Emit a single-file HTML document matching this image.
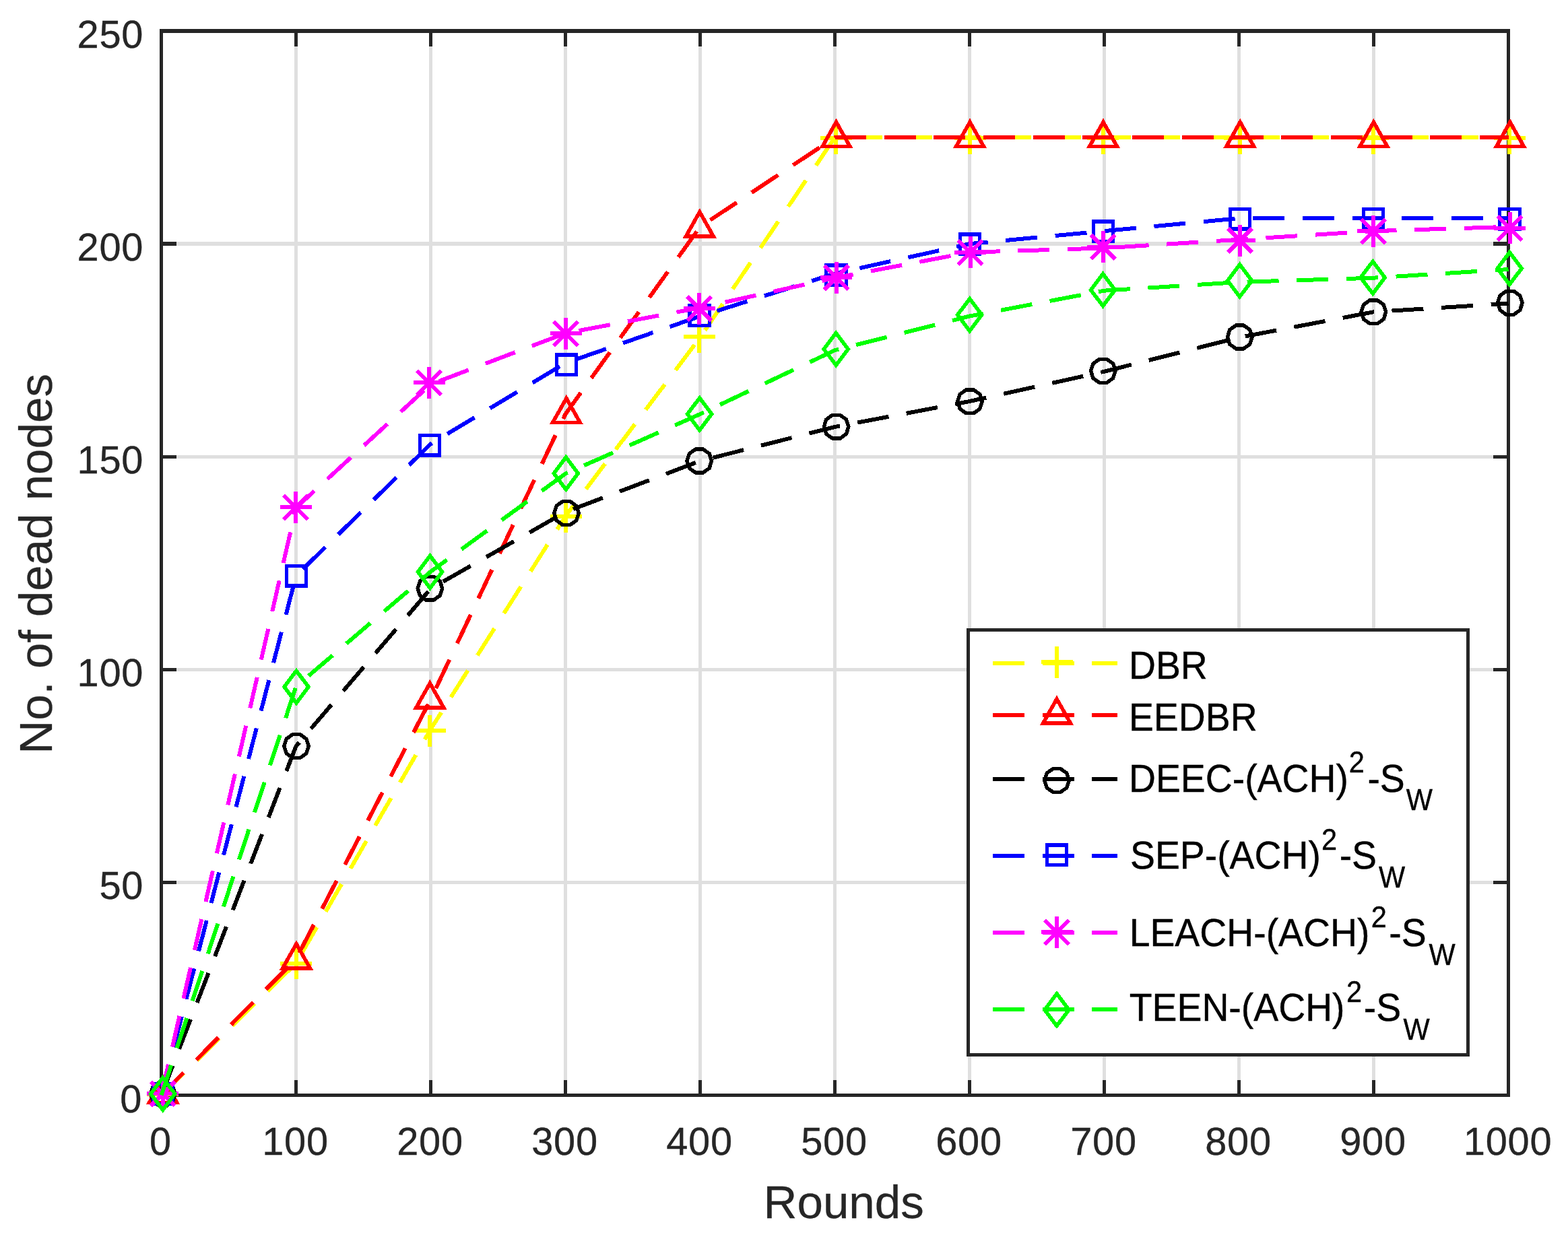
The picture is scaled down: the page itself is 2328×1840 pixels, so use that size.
<!DOCTYPE html>
<html lang="en"><head><meta charset="utf-8"><title>No. of dead nodes vs. Rounds</title>
<style>html,body{margin:0;padding:0;background:#fff;overflow:hidden}svg{display:block}text{font-family:"Liberation Sans",sans-serif}</style>
</head><body>
<svg width="2328" height="1840" viewBox="0 0 2328 1840" role="img" aria-label="No. of dead nodes versus rounds">
<rect width="2328" height="1840" fill="#fff"/>
<g stroke="#dfdfdf" stroke-width="5" shape-rendering="crispEdges">
<line x1="439.5" y1="46" x2="439.5" y2="1626.5"/>
<line x1="639.5" y1="46" x2="639.5" y2="1626.5"/>
<line x1="839.5" y1="46" x2="839.5" y2="1626.5"/>
<line x1="1039.5" y1="46" x2="1039.5" y2="1626.5"/>
<line x1="1239.5" y1="46" x2="1239.5" y2="1626.5"/>
<line x1="1439.5" y1="46" x2="1439.5" y2="1626.5"/>
<line x1="1639.5" y1="46" x2="1639.5" y2="1626.5"/>
<line x1="1839.5" y1="46" x2="1839.5" y2="1626.5"/>
<line x1="2039.5" y1="46" x2="2039.5" y2="1626.5"/>
<line x1="239.5" y1="1310.4" x2="2239.5" y2="1310.4"/>
<line x1="239.5" y1="994.3" x2="2239.5" y2="994.3"/>
<line x1="239.5" y1="678.2" x2="2239.5" y2="678.2"/>
<line x1="239.5" y1="362" x2="2239.5" y2="362" stroke-width="6"/>
</g>
<g stroke="#262626" stroke-width="5" fill="none" shape-rendering="crispEdges">
<rect x="239.5" y="46" width="2000" height="1580.5"/>
<line x1="237" y1="46" x2="2242" y2="46" stroke-width="6"/>
<line x1="439.5" y1="1626.5" x2="439.5" y2="1604"/>
<line x1="439.5" y1="46" x2="439.5" y2="68.5"/>
<line x1="639.5" y1="1626.5" x2="639.5" y2="1604"/>
<line x1="639.5" y1="46" x2="639.5" y2="68.5"/>
<line x1="839.5" y1="1626.5" x2="839.5" y2="1604"/>
<line x1="839.5" y1="46" x2="839.5" y2="68.5"/>
<line x1="1039.5" y1="1626.5" x2="1039.5" y2="1604"/>
<line x1="1039.5" y1="46" x2="1039.5" y2="68.5"/>
<line x1="1239.5" y1="1626.5" x2="1239.5" y2="1604"/>
<line x1="1239.5" y1="46" x2="1239.5" y2="68.5"/>
<line x1="1439.5" y1="1626.5" x2="1439.5" y2="1604"/>
<line x1="1439.5" y1="46" x2="1439.5" y2="68.5"/>
<line x1="1639.5" y1="1626.5" x2="1639.5" y2="1604"/>
<line x1="1639.5" y1="46" x2="1639.5" y2="68.5"/>
<line x1="1839.5" y1="1626.5" x2="1839.5" y2="1604"/>
<line x1="1839.5" y1="46" x2="1839.5" y2="68.5"/>
<line x1="2039.5" y1="1626.5" x2="2039.5" y2="1604"/>
<line x1="2039.5" y1="46" x2="2039.5" y2="68.5"/>
<line x1="239.5" y1="1310.4" x2="262" y2="1310.4"/>
<line x1="2239.5" y1="1310.4" x2="2217" y2="1310.4"/>
<line x1="239.5" y1="994.3" x2="262" y2="994.3"/>
<line x1="2239.5" y1="994.3" x2="2217" y2="994.3"/>
<line x1="239.5" y1="678.2" x2="262" y2="678.2"/>
<line x1="2239.5" y1="678.2" x2="2217" y2="678.2"/>
<line x1="239.5" y1="362" x2="262" y2="362" stroke-width="6"/>
<line x1="2239.5" y1="362" x2="2217" y2="362" stroke-width="6"/>
</g>
<g font-size="57.8" letter-spacing="0.8" fill="#262626" stroke="#262626" stroke-width="0.35">
<text x="238.6" y="1714.8" text-anchor="middle">0</text>
<text x="438.6" y="1714.8" text-anchor="middle">100</text>
<text x="638.6" y="1714.8" text-anchor="middle">200</text>
<text x="838.6" y="1714.8" text-anchor="middle">300</text>
<text x="1038.6" y="1714.8" text-anchor="middle">400</text>
<text x="1238.6" y="1714.8" text-anchor="middle">500</text>
<text x="1438.6" y="1714.8" text-anchor="middle">600</text>
<text x="1638.6" y="1714.8" text-anchor="middle">700</text>
<text x="1838.6" y="1714.8" text-anchor="middle">800</text>
<text x="2038.6" y="1714.8" text-anchor="middle">900</text>
<text x="2238.6" y="1714.8" text-anchor="middle">1000</text>
<text x="211.1" y="1651.5" text-anchor="end">0</text>
<text x="213.3" y="1335.4" text-anchor="end">50</text>
<text x="213.3" y="1019.3" text-anchor="end">100</text>
<text x="213.3" y="703.2" text-anchor="end">150</text>
<text x="213.3" y="387.1" text-anchor="end">200</text>
<text x="213.3" y="71" text-anchor="end">250</text>
</g>
<g font-size="69.1" fill="#262626" stroke="#262626" stroke-width="0.3">
<text x="1252.7" y="1808.8" text-anchor="middle">Rounds</text>
<text transform="translate(77.2 837.4) rotate(-90)" text-anchor="middle">No. of dead nodes</text>
</g>
<g shape-rendering="crispEdges">
<g>
<polyline points="239.5,1626.5 439.5,1430.52 639.5,1082.81 839.5,766.71 1039.5,501.18 1239.5,204.05 1439.5,204.05 1639.5,204.05 1839.5,204.05 2039.5,204.05 2239.5,204.05" fill="none" stroke="#ffff00" stroke-width="6" stroke-dasharray="47 26.72" stroke-linejoin="round"/>
<path d="M218.4 1624.6H265.4M241.9 1601.1V1648.1" fill="none" stroke="#ffff00" stroke-width="6"/>
<path d="M416 1430.52H463M439.5 1407.02V1454.02" fill="none" stroke="#ffff00" stroke-width="6"/>
<path d="M614.8 1085.41H661.8M638.3 1061.91V1108.91" fill="none" stroke="#ffff00" stroke-width="6"/>
<path d="M816.5 767.21H863.5M840 743.71V790.71" fill="none" stroke="#ffff00" stroke-width="6"/>
<path d="M1014.6 500.18H1061.6M1038.1 476.68V523.68" fill="none" stroke="#ffff00" stroke-width="6"/>
<path d="M1217.8 205.45H1264.8M1241.3 181.95V228.95" fill="none" stroke="#ffff00" stroke-width="6"/>
<path d="M1416.5 205.45H1463.5M1440 181.95V228.95" fill="none" stroke="#ffff00" stroke-width="6"/>
<path d="M1614.3 205.45H1661.3M1637.8 181.95V228.95" fill="none" stroke="#ffff00" stroke-width="6"/>
<path d="M1817.4 205.45H1864.4M1840.9 181.95V228.95" fill="none" stroke="#ffff00" stroke-width="6"/>
<path d="M2015.4 205.45H2062.4M2038.9 181.95V228.95" fill="none" stroke="#ffff00" stroke-width="6"/>
<path d="M2217.6 205.45H2264.6M2241.1 181.95V228.95" fill="none" stroke="#ffff00" stroke-width="6"/>
</g>
<g>
<polyline points="239.5,1626.5 439.5,1424.2 639.5,1038.55 839.5,614.98 1039.5,336.81 1239.5,204.05 1439.5,204.05 1639.5,204.05 1839.5,204.05 2039.5,204.05 2239.5,204.05" fill="none" stroke="#ff0000" stroke-width="6" stroke-dasharray="47 26.72" stroke-linejoin="round"/>
<path d="M242.1 1601.1L262.5 1637.3L221.7 1637.3Z" fill="none" stroke="#ff0000" stroke-width="5.6" stroke-miterlimit="10"/>
<path d="M440 1401.7L460.4 1437.9L419.6 1437.9Z" fill="none" stroke="#ff0000" stroke-width="5.6" stroke-miterlimit="10"/>
<path d="M638.3 1014.65L658.7 1050.85L617.9 1050.85Z" fill="none" stroke="#ff0000" stroke-width="5.6" stroke-miterlimit="10"/>
<path d="M840.9 591.48L861.3 627.68L820.5 627.68Z" fill="none" stroke="#ff0000" stroke-width="5.6" stroke-miterlimit="10"/>
<path d="M1038.8 314.71L1059.2 350.91L1018.4 350.91Z" fill="none" stroke="#ff0000" stroke-width="5.6" stroke-miterlimit="10"/>
<path d="M1241.5 181.25L1261.9 217.45L1221.1 217.45Z" fill="none" stroke="#ff0000" stroke-width="5.6" stroke-miterlimit="10"/>
<path d="M1440 181.25L1460.4 217.45L1419.6 217.45Z" fill="none" stroke="#ff0000" stroke-width="5.6" stroke-miterlimit="10"/>
<path d="M1638 181.25L1658.4 217.45L1617.6 217.45Z" fill="none" stroke="#ff0000" stroke-width="5.6" stroke-miterlimit="10"/>
<path d="M1841.2 181.25L1861.6 217.45L1820.8 217.45Z" fill="none" stroke="#ff0000" stroke-width="5.6" stroke-miterlimit="10"/>
<path d="M2039.4 181.35L2059.8 217.55L2019 217.55Z" fill="none" stroke="#ff0000" stroke-width="5.6" stroke-miterlimit="10"/>
<path d="M2242 181.35L2262.4 217.55L2221.6 217.55Z" fill="none" stroke="#ff0000" stroke-width="5.6" stroke-miterlimit="10"/>
</g>
<g>
<polyline points="239.5,1626.5 439.5,1108.1 639.5,874.18 839.5,760.39 1039.5,684.52 1239.5,633.95 1439.5,596.01 1639.5,551.76 1839.5,501.18 2039.5,463.25 2239.5,450.61" fill="none" stroke="#000000" stroke-width="6" stroke-dasharray="47 26.72" stroke-linejoin="round"/>
<polygon points="260.2,1624.6 256.71,1635.36 247.56,1642 236.24,1642 227.09,1635.36 223.6,1624.6 227.09,1613.84 236.24,1607.2 247.56,1607.2 256.71,1613.84" fill="none" stroke="#000000" stroke-width="5.4" stroke-linejoin="miter"/>
<polygon points="458.3,1108.1 454.81,1118.85 445.66,1125.5 434.34,1125.5 425.19,1118.85 421.7,1108.1 425.19,1097.34 434.34,1090.69 445.66,1090.69 454.81,1097.34" fill="none" stroke="#000000" stroke-width="5.4" stroke-linejoin="miter"/>
<polygon points="656.7,873.68 653.21,884.44 644.06,891.09 632.74,891.09 623.59,884.44 620.1,873.68 623.59,862.93 632.74,856.28 644.06,856.28 653.21,862.93" fill="none" stroke="#000000" stroke-width="5.4" stroke-linejoin="miter"/>
<polygon points="859.2,762.09 855.71,772.84 846.56,779.49 835.24,779.49 826.09,772.84 822.6,762.09 826.09,751.33 835.24,744.68 846.56,744.68 855.71,751.33" fill="none" stroke="#000000" stroke-width="5.4" stroke-linejoin="miter"/>
<polygon points="1056.6,684.52 1053.11,695.28 1043.96,701.93 1032.64,701.93 1023.49,695.28 1020,684.52 1023.49,673.77 1032.64,667.12 1043.96,667.12 1053.11,673.77" fill="none" stroke="#000000" stroke-width="5.4" stroke-linejoin="miter"/>
<polygon points="1259.9,633.75 1256.41,644.5 1247.26,651.15 1235.94,651.15 1226.79,644.5 1223.3,633.75 1226.79,622.99 1235.94,616.34 1247.26,616.34 1256.41,622.99" fill="none" stroke="#000000" stroke-width="5.4" stroke-linejoin="miter"/>
<polygon points="1458.3,596.31 1454.81,607.07 1445.66,613.72 1434.34,613.72 1425.19,607.07 1421.7,596.31 1425.19,585.56 1434.34,578.91 1445.66,578.91 1454.81,585.56" fill="none" stroke="#000000" stroke-width="5.4" stroke-linejoin="miter"/>
<polygon points="1656.1,550.86 1652.61,561.62 1643.46,568.26 1632.14,568.26 1622.99,561.62 1619.5,550.86 1622.99,540.1 1632.14,533.46 1643.46,533.46 1652.61,540.1" fill="none" stroke="#000000" stroke-width="5.4" stroke-linejoin="miter"/>
<polygon points="1859,500.48 1855.51,511.24 1846.36,517.89 1835.04,517.89 1825.89,511.24 1822.4,500.48 1825.89,489.73 1835.04,483.08 1846.36,483.08 1855.51,489.73" fill="none" stroke="#000000" stroke-width="5.4" stroke-linejoin="miter"/>
<polygon points="2057.7,463.25 2054.21,474.01 2045.06,480.66 2033.74,480.66 2024.59,474.01 2021.1,463.25 2024.59,452.5 2033.74,445.85 2045.06,445.85 2054.21,452.5" fill="none" stroke="#000000" stroke-width="5.4" stroke-linejoin="miter"/>
<polygon points="2260.2,449.81 2256.71,460.56 2247.56,467.21 2236.24,467.21 2227.09,460.56 2223.6,449.81 2227.09,439.05 2236.24,432.4 2247.56,432.4 2256.71,439.05" fill="none" stroke="#000000" stroke-width="5.4" stroke-linejoin="miter"/>
</g>
<g>
<polyline points="239.5,1626.5 439.5,855.22 639.5,659.23 839.5,539.12 1039.5,469.57 1239.5,406.35 1439.5,362.1 1639.5,343.13 1839.5,324.17 2039.5,324.17 2239.5,324.17" fill="none" stroke="#0000ff" stroke-width="6" stroke-dasharray="47 26.72" stroke-linejoin="round"/>
<rect x="227.2" y="1609.9" width="29.4" height="29.4" fill="none" stroke="#0000ff" stroke-width="5.3"/>
<rect x="425.3" y="840.52" width="29.4" height="29.4" fill="none" stroke="#0000ff" stroke-width="5.3"/>
<rect x="623.4" y="646.73" width="29.4" height="29.4" fill="none" stroke="#0000ff" stroke-width="5.3"/>
<rect x="826.2" y="526.92" width="29.4" height="29.4" fill="none" stroke="#0000ff" stroke-width="5.3"/>
<rect x="1024.1" y="453.77" width="29.4" height="29.4" fill="none" stroke="#0000ff" stroke-width="5.3"/>
<rect x="1226.8" y="393.85" width="29.4" height="29.4" fill="none" stroke="#0000ff" stroke-width="5.3"/>
<rect x="1425.3" y="347.9" width="29.4" height="29.4" fill="none" stroke="#0000ff" stroke-width="5.3"/>
<rect x="1623.3" y="328.93" width="29.4" height="29.4" fill="none" stroke="#0000ff" stroke-width="5.3"/>
<rect x="1826.4" y="310.47" width="29.4" height="29.4" fill="none" stroke="#0000ff" stroke-width="5.3"/>
<rect x="2024.4" y="310.47" width="29.4" height="29.4" fill="none" stroke="#0000ff" stroke-width="5.3"/>
<rect x="2226.8" y="310.47" width="29.4" height="29.4" fill="none" stroke="#0000ff" stroke-width="5.3"/>
</g>
<g>
<polyline points="239.5,1626.5 439.5,754.06 639.5,570.73 839.5,494.86 1039.5,456.93 1239.5,412.68 1439.5,374.74 1639.5,368.42 1839.5,355.78 2039.5,343.13 2239.5,336.81" fill="none" stroke="#ff00ff" stroke-width="6" stroke-dasharray="47 26.72" stroke-linejoin="round"/>
<path d="M218.4 1624.2H265.4M241.9 1600.7V1647.7M224 1606.3L259.8 1642.1M224 1642.1L259.8 1606.3" fill="none" stroke="#ff00ff" stroke-width="6"/>
<path d="M415.6 753.46H462.6M439.1 729.96V776.96M421.2 735.56L457 771.36M421.2 771.36L457 735.56" fill="none" stroke="#ff00ff" stroke-width="6"/>
<path d="M613.5 568.43H660.5M637 544.93V591.93M619.1 550.53L654.9 586.33M619.1 586.33L654.9 550.53" fill="none" stroke="#ff00ff" stroke-width="6"/>
<path d="M816.5 495.36H863.5M840 471.86V518.86M822.1 477.46L857.9 513.26M822.1 513.26L857.9 477.46" fill="none" stroke="#ff00ff" stroke-width="6"/>
<path d="M1014.8 458.33H1061.8M1038.3 434.83V481.83M1020.4 440.43L1056.2 476.23M1020.4 476.23L1056.2 440.43" fill="none" stroke="#ff00ff" stroke-width="6"/>
<path d="M1218.4 412.28H1265.4M1241.9 388.78V435.78M1224 394.38L1259.8 430.18M1224 430.18L1259.8 394.38" fill="none" stroke="#ff00ff" stroke-width="6"/>
<path d="M1417 374.94H1464M1440.5 351.44V398.44M1422.6 357.04L1458.4 392.84M1422.6 392.84L1458.4 357.04" fill="none" stroke="#ff00ff" stroke-width="6"/>
<path d="M1614.3 366.92H1661.3M1637.8 343.42V390.42M1619.9 349.02L1655.7 384.82M1619.9 384.82L1655.7 349.02" fill="none" stroke="#ff00ff" stroke-width="6"/>
<path d="M1817.4 357.08H1864.4M1840.9 333.58V380.58M1823 339.18L1858.8 374.98M1823 374.98L1858.8 339.18" fill="none" stroke="#ff00ff" stroke-width="6"/>
<path d="M2015.4 343.43H2062.4M2038.9 319.93V366.93M2021 325.53L2056.8 361.33M2021 361.33L2056.8 325.53" fill="none" stroke="#ff00ff" stroke-width="6"/>
<path d="M2218.1 338.91H2265.1M2241.6 315.41V362.41M2223.7 321.01L2259.5 356.81M2223.7 356.81L2259.5 321.01" fill="none" stroke="#ff00ff" stroke-width="6"/>
</g>
<g>
<polyline points="239.5,1626.5 439.5,1019.59 639.5,848.89 839.5,703.49 1039.5,614.98 1239.5,520.15 1439.5,469.57 1639.5,431.64 1839.5,419 2039.5,412.68 2239.5,400.03" fill="none" stroke="#00ff00" stroke-width="6" stroke-dasharray="47 26.72" stroke-linejoin="round"/>
<path d="M241.7 1600.5L259.7 1624.4L241.7 1648.3L223.7 1624.4Z" fill="none" stroke="#00ff00" stroke-width="5.6" stroke-miterlimit="10"/>
<path d="M440 996.19L458 1020.09L440 1043.99L422 1020.09Z" fill="none" stroke="#00ff00" stroke-width="5.6" stroke-miterlimit="10"/>
<path d="M638.5 825.49L656.5 849.39L638.5 873.29L620.5 849.39Z" fill="none" stroke="#00ff00" stroke-width="5.6" stroke-miterlimit="10"/>
<path d="M840.3 679.09L858.3 702.99L840.3 726.89L822.3 702.99Z" fill="none" stroke="#00ff00" stroke-width="5.6" stroke-miterlimit="10"/>
<path d="M1038.7 590.98L1056.7 614.88L1038.7 638.78L1020.7 614.88Z" fill="none" stroke="#00ff00" stroke-width="5.6" stroke-miterlimit="10"/>
<path d="M1241.2 494.55L1259.2 518.45L1241.2 542.35L1223.2 518.45Z" fill="none" stroke="#00ff00" stroke-width="5.6" stroke-miterlimit="10"/>
<path d="M1439.7 443.67L1457.7 467.57L1439.7 491.47L1421.7 467.57Z" fill="none" stroke="#00ff00" stroke-width="5.6" stroke-miterlimit="10"/>
<path d="M1637.5 406.64L1655.5 430.54L1637.5 454.44L1619.5 430.54Z" fill="none" stroke="#00ff00" stroke-width="5.6" stroke-miterlimit="10"/>
<path d="M1840.6 392.9L1858.6 416.8L1840.6 440.7L1822.6 416.8Z" fill="none" stroke="#00ff00" stroke-width="5.6" stroke-miterlimit="10"/>
<path d="M2038.2 388.28L2056.2 412.18L2038.2 436.08L2020.2 412.18Z" fill="none" stroke="#00ff00" stroke-width="5.6" stroke-miterlimit="10"/>
<path d="M2241.2 374.73L2259.2 398.63L2241.2 422.53L2223.2 398.63Z" fill="none" stroke="#00ff00" stroke-width="5.6" stroke-miterlimit="10"/>
</g>
</g>
<rect x="1437.5" y="935.5" width="742" height="631" fill="#fff" stroke="#262626" stroke-width="5" shape-rendering="crispEdges"/>
<g shape-rendering="crispEdges">
<line x1="1474" y1="985" x2="1659" y2="985" stroke="#ffff00" stroke-width="6" stroke-dasharray="47 26.7"/>
<path d="M1545.5 983.1H1592.5M1569 959.6V1006.6" fill="none" stroke="#ffff00" stroke-width="6"/>
<line x1="1474" y1="1062" x2="1659" y2="1062" stroke="#ff0000" stroke-width="6" stroke-dasharray="47 26.7"/>
<path d="M1569 1038L1589.4 1074.2L1548.6 1074.2Z" fill="none" stroke="#ff0000" stroke-width="5.6" stroke-miterlimit="10"/>
<line x1="1474" y1="1157" x2="1659" y2="1157" stroke="#000000" stroke-width="6" stroke-dasharray="47 26.7"/>
<polygon points="1587.3,1159 1583.81,1169.76 1574.66,1176.4 1563.34,1176.4 1554.19,1169.76 1550.7,1159 1554.19,1148.24 1563.34,1141.6 1574.66,1141.6 1583.81,1148.24" fill="none" stroke="#000000" stroke-width="5.4" stroke-linejoin="miter"/>
<line x1="1474" y1="1271" x2="1659" y2="1271" stroke="#0000ff" stroke-width="6" stroke-dasharray="47 26.7"/>
<rect x="1554.3" y="1255" width="29.4" height="29.4" fill="none" stroke="#0000ff" stroke-width="5.3"/>
<line x1="1474" y1="1385" x2="1659" y2="1385" stroke="#ff00ff" stroke-width="6" stroke-dasharray="47 26.7"/>
<path d="M1545.5 1384.3H1592.5M1569 1360.8V1407.8M1551.1 1366.4L1586.9 1402.2M1551.1 1402.2L1586.9 1366.4" fill="none" stroke="#ff00ff" stroke-width="6"/>
<line x1="1474" y1="1499" x2="1659" y2="1499" stroke="#00ff00" stroke-width="6" stroke-dasharray="47 26.7"/>
<path d="M1569 1475.7L1587 1499.6L1569 1523.5L1551 1499.6Z" fill="none" stroke="#00ff00" stroke-width="5.6" stroke-miterlimit="10"/>
</g>
<g font-size="55.35" fill="#000" stroke="#000" stroke-width="0.4">
<text transform="translate(0 1008) scale(1 1.05)" x="1675.96" y="0">DBR</text>
<text transform="translate(0 1085) scale(1 1.05)" x="1675.96" y="0">EEDBR</text>
<text transform="translate(0 1175.5) scale(1 1.05)" y="0"><tspan x="1675.96">DEEC-(ACH)</tspan><tspan x="2002.81" dy="-27.14" font-size="41.5">2</tspan><tspan x="2030.44" dy="27.14">-S</tspan><tspan x="2087.82" dy="26.19" font-size="41.5">W</tspan></text>
<text transform="translate(0 1290) scale(1 1.05)" y="0"><tspan x="1677.99">SEP-(ACH)</tspan><tspan x="1962.01" dy="-27.14" font-size="41.5">2</tspan><tspan x="1988.64" dy="27.14">-S</tspan><tspan x="2047.12" dy="26.19" font-size="41.5">W</tspan></text>
<text transform="translate(0 1405) scale(1 1.05)" y="0"><tspan x="1676.66">LEACH-(ACH)</tspan><tspan x="2035.71" dy="-27.14" font-size="41.5">2</tspan><tspan x="2062.34" dy="27.14">-S</tspan><tspan x="2121.62" dy="26.19" font-size="41.5">W</tspan></text>
<text transform="translate(0 1516.2) scale(1 1.05)" y="0"><tspan x="1676.76">TEEN-(ACH)</tspan><tspan x="1999.01" dy="-27.14" font-size="41.5">2</tspan><tspan x="2024.84" dy="27.14">-S</tspan><tspan x="2083.42" dy="26.19" font-size="41.5">W</tspan></text>
</g>
</svg>
</body></html>
